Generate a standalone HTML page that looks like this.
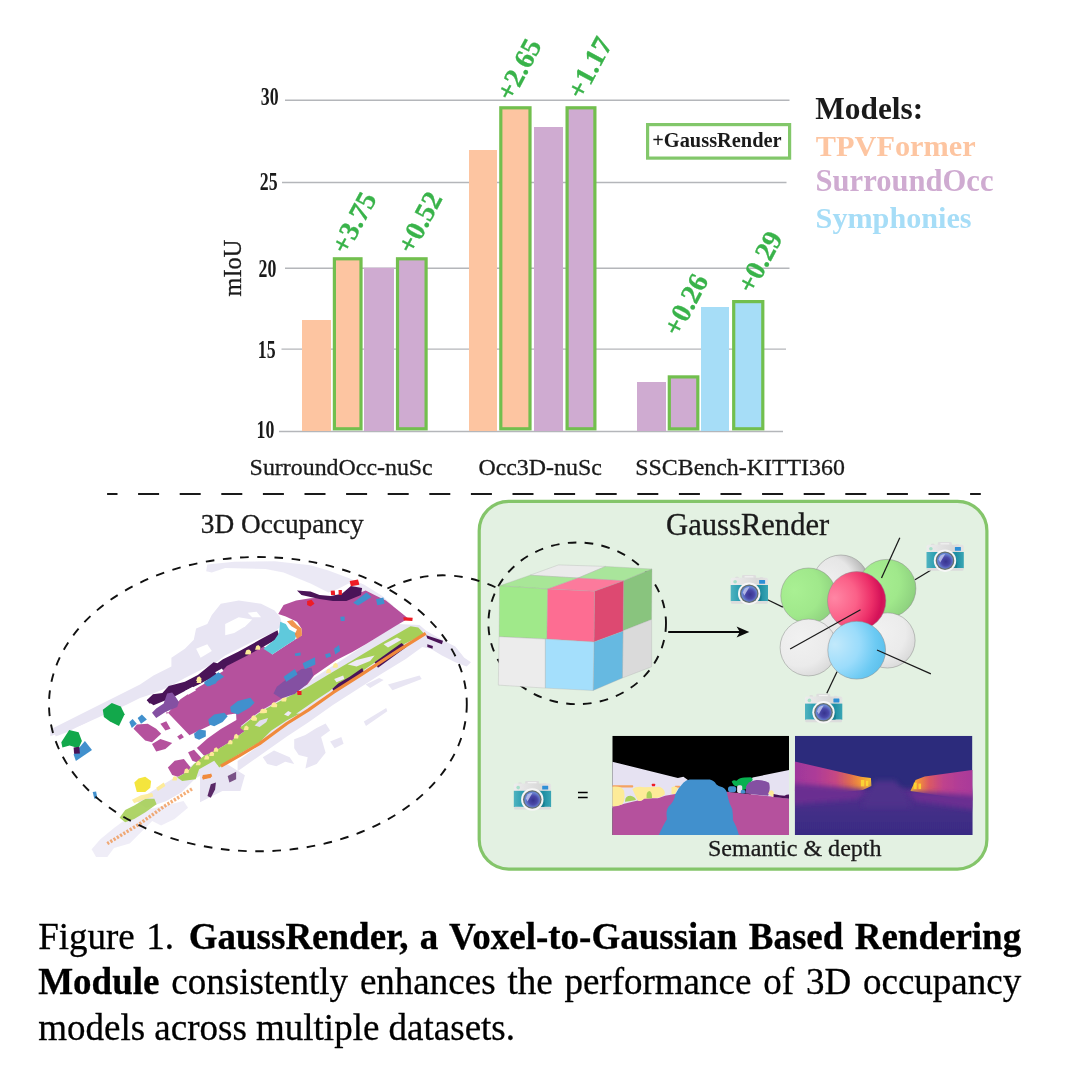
<!DOCTYPE html>
<html lang="en">
<head>
<meta charset="utf-8">
<title>Figure 1 - GaussRender</title>
<style>
html,body{margin:0;padding:0;background:#fff;}
body{width:1070px;height:1084px;position:relative;overflow:hidden;font-family:"Liberation Serif",serif;color:#000;}
svg{position:absolute;left:0;top:0;display:block;}
svg text{font-family:"Liberation Serif",serif;}
.cap{position:absolute;left:38.2px;width:983px;font-size:37px;line-height:45px;white-space:nowrap;text-align:justify;text-align-last:justify;color:#000;}
.cap.last{text-align:left;text-align-last:left;}
.cap b{font-weight:bold;}
.cap{-webkit-text-stroke:0.3px #000;}
svg text.tk, svg g.tk text{stroke:#1a1a1a;stroke-width:0.3px;}
</style>
</head>
<body>
<svg width="1070" height="1084" viewBox="0 0 1070 1084">
<defs>
<radialGradient id="gW" cx="0.35" cy="0.35" r="0.8"><stop offset="0" stop-color="#f1f1f1"/><stop offset="0.6" stop-color="#ebebeb"/><stop offset="0.85" stop-color="#dcdcdc"/><stop offset="1" stop-color="#c4c4c4"/></radialGradient>
<radialGradient id="gWb" cx="0.25" cy="0.5" r="0.85"><stop offset="0" stop-color="#f0f0f0"/><stop offset="0.55" stop-color="#e6e6e6"/><stop offset="0.8" stop-color="#bdbdbd"/><stop offset="1" stop-color="#7d7d7d"/></radialGradient>
<radialGradient id="gG" cx="0.25" cy="0.4" r="0.85"><stop offset="0" stop-color="#a9f093"/><stop offset="0.55" stop-color="#a0e88b"/><stop offset="0.85" stop-color="#90d480"/><stop offset="1" stop-color="#7fc073"/></radialGradient>
<radialGradient id="gP" cx="0.12" cy="0.45" r="0.95"><stop offset="0" stop-color="#ff86a4"/><stop offset="0.4" stop-color="#fb6088"/><stop offset="0.68" stop-color="#ec2e68"/><stop offset="0.85" stop-color="#d31158"/><stop offset="1" stop-color="#d92663"/></radialGradient>
<radialGradient id="gB" cx="0.12" cy="0.4" r="0.95"><stop offset="0" stop-color="#c2e9fb"/><stop offset="0.45" stop-color="#9bdcfb"/><stop offset="0.75" stop-color="#6ccaf3"/><stop offset="1" stop-color="#57bdea"/></radialGradient>
<linearGradient id="cTop" x1="0" y1="0" x2="1" y2="0"><stop offset="0" stop-color="#ededed"/><stop offset="0.7" stop-color="#d9d9d9"/><stop offset="1" stop-color="#e4e4e4"/></linearGradient>
<linearGradient id="cBody" x1="0" y1="0" x2="1" y2="0"><stop offset="0" stop-color="#4fb3c0"/><stop offset="0.25" stop-color="#2a9db0"/><stop offset="0.8" stop-color="#1f8fa3"/><stop offset="1" stop-color="#3aa6b5"/></linearGradient>
<radialGradient id="cLens" cx="0.55" cy="0.55" r="0.6"><stop offset="0" stop-color="#37348f"/><stop offset="0.45" stop-color="#4a48a8"/><stop offset="0.8" stop-color="#6a86d4"/><stop offset="1" stop-color="#4f7fcf"/></radialGradient>
<g id="cam">
<rect x="11.3" y="0" width="14" height="5" rx="1.2" fill="#dedede"/>
<rect x="13.8" y="1.2" width="9" height="1.3" rx="0.5" fill="#f3f3f3"/>
<rect x="4.5" y="1.6" width="3.5" height="2" rx="0.8" fill="#dcdcdc"/>
<rect x="29" y="2" width="3.5" height="1.5" rx="0.6" fill="#e0e0e0"/>
<rect x="0" y="2.7" width="37.3" height="8" rx="1.8" fill="url(#cTop)"/>
<rect x="0" y="9.9" width="37.3" height="16.2" fill="url(#cBody)"/>
<rect x="0.3" y="25.9" width="36.7" height="2.7" rx="1" fill="#dcdcdc"/>
<path d="M27,13 q5,5 3.5,13 h-5 z" fill="#187a8c" opacity="0.8"/>
<rect x="28.4" y="4.8" width="6" height="3.9" rx="0.4" fill="#2d8fd6"/>
<circle cx="4.4" cy="6.7" r="1.8" fill="#a6e0cb"/>
<circle cx="18.5" cy="18.6" r="11.2" fill="#f6f6f6"/>
<circle cx="18.5" cy="18.6" r="9.3" fill="#66706f"/>
<circle cx="18.5" cy="18.6" r="8" fill="url(#cLens)"/>
<path d="M12.2,17.5 a6.8,6.8 0 0 1 6.5,-5.6 l-5,8.6 z" fill="#c6caf0" opacity="0.8"/>
</g>
<linearGradient id="dGround" x1="0" y1="0" x2="0" y2="1"><stop offset="0" stop-color="#582e8c"/><stop offset="0.35" stop-color="#452d88"/><stop offset="1" stop-color="#342c81"/></linearGradient>
<linearGradient id="dL" x1="0" y1="0" x2="1" y2="0"><stop offset="0" stop-color="#9c389c"/><stop offset="0.3" stop-color="#ad3b98"/><stop offset="0.55" stop-color="#c64784"/><stop offset="0.72" stop-color="#de6a52"/><stop offset="0.86" stop-color="#f29638"/><stop offset="1" stop-color="#fbc530"/></linearGradient>
<linearGradient id="dR" x1="0" y1="0" x2="1" y2="0"><stop offset="0" stop-color="#fbc52c"/><stop offset="0.12" stop-color="#f4923a"/><stop offset="0.28" stop-color="#dc5a62"/><stop offset="0.5" stop-color="#c0438c"/><stop offset="0.75" stop-color="#b03c97"/><stop offset="1" stop-color="#a83a9a"/></linearGradient>
<linearGradient id="dFade" x1="0" y1="0" x2="0" y2="1"><stop offset="0" stop-color="#fff"/><stop offset="0.55" stop-color="#fff"/><stop offset="1" stop-color="#000"/></linearGradient>
<filter id="bl3" x="-10%" y="-30%" width="120%" height="160%"><feGaussianBlur stdDeviation="14"/></filter>
<filter id="bl4" x="-20%" y="-50%" width="140%" height="200%"><feGaussianBlur stdDeviation="16"/></filter>
<filter id="bl2" x="-10%" y="-30%" width="120%" height="160%"><feGaussianBlur stdDeviation="4"/></filter>
<clipPath id="clipD"><rect x="38" y="43" width="974" height="544"/></clipPath>
<clipPath id="clipS"><rect x="40" y="43" width="970" height="544"/></clipPath>
</defs>
<!-- ===== CHART ===== -->
<g id="chart">
<g stroke="#b4b6ba" stroke-width="1.45" fill="none">
<line x1="285" y1="100.3" x2="789.5" y2="100.3"/>
<line x1="282" y1="182.5" x2="786.5" y2="182.5"/>
<line x1="285" y1="268.2" x2="789.5" y2="268.2"/>
<line x1="281.5" y1="349.1" x2="786" y2="349.1"/>
<line x1="279" y1="431.4" x2="783" y2="431.4"/>
</g>
<!-- group 1 -->
<rect x="302" y="320" width="29" height="111" fill="#fdc5a1"/>
<rect x="334.4" y="258.8" width="26.6" height="170" fill="#fdc5a1" stroke="#72bf4e" stroke-width="3.2"/>
<rect x="364" y="267.8" width="30" height="163.2" fill="#cfabd1"/>
<rect x="397.5" y="258.8" width="28.6" height="170" fill="#cfabd1" stroke="#72bf4e" stroke-width="3.2"/>
<!-- group 2 -->
<rect x="469" y="150" width="28" height="281" fill="#fdc5a1"/>
<rect x="500.8" y="107.8" width="29.2" height="321" fill="#fdc5a1" stroke="#72bf4e" stroke-width="3.2"/>
<rect x="534" y="127" width="29" height="304" fill="#cfabd1"/>
<rect x="567.1" y="107.8" width="27.8" height="321" fill="#cfabd1" stroke="#72bf4e" stroke-width="3.2"/>
<!-- group 3 -->
<rect x="637" y="382" width="29" height="49" fill="#cfabd1"/>
<rect x="669.3" y="376.9" width="28.5" height="52" fill="#cfabd1" stroke="#72bf4e" stroke-width="3.2"/>
<rect x="701" y="307" width="28" height="124" fill="#a6ddf7"/>
<rect x="733.7" y="301.6" width="29.1" height="127.2" fill="#a6ddf7" stroke="#72bf4e" stroke-width="3.2"/>
<!-- y tick labels -->
<g font-weight="bold" font-size="24.5" fill="#1a1a1a" text-anchor="end">
<text x="278.6" y="105.2" textLength="17.8" lengthAdjust="spacingAndGlyphs">30</text>
<text x="277.6" y="190.4" textLength="17.8" lengthAdjust="spacingAndGlyphs">25</text>
<text x="276.4" y="277.2" textLength="17.8" lengthAdjust="spacingAndGlyphs">20</text>
<text x="275.6" y="357.6" textLength="17.8" lengthAdjust="spacingAndGlyphs">15</text>
<text x="274.4" y="437.8" textLength="17.8" lengthAdjust="spacingAndGlyphs">10</text>
</g>
<text class="tk" transform="translate(241.2,296.5) rotate(-90)" font-size="24.3" fill="#1a1a1a">mIoU</text>
<!-- delta labels -->
<g font-weight="bold" font-size="28" fill="#39b34a" stroke="#39b34a" stroke-width="0.3">
<text transform="translate(346.8,255.7) rotate(-62)">+3.75</text>
<text transform="translate(412.7,255.5) rotate(-62)">+0.52</text>
<text transform="translate(511.8,102.6) rotate(-62)">+2.65</text>
<text transform="translate(582.5,100.7) rotate(-62)">+1.17</text>
<text transform="translate(678.7,337.7) rotate(-62)">+0.26</text>
<text transform="translate(752.8,295) rotate(-62)">+0.29</text>
</g>
<!-- x labels -->
<g class="tk" font-size="23.9" fill="#1a1a1a">
<text x="249.6" y="474.8">SurroundOcc-nuSc</text>
<text x="478.4" y="474.8">Occ3D-nuSc</text>
<text x="635.2" y="474.8">SSCBench-KITTI360</text>
</g>
<!-- legend box -->
<rect x="647.6" y="124.6" width="142" height="33.5" fill="#fff" stroke="#82c76a" stroke-width="3.2"/>
<text x="652.2" y="147.3" font-weight="bold" font-size="20.4" fill="#1a1a1a">+GaussRender</text>
<g font-weight="bold">
<text x="815.3" y="119.2" font-size="31.3" fill="#1a1a1a">Models:</text>
<text x="815.8" y="155.7" font-size="30.3" fill="#fdc5a1">TPVFormer</text>
<text x="815.6" y="191.2" font-size="30.6" fill="#cfabd1">SurroundOcc</text>
<text x="815.6" y="228" font-size="30.2" fill="#a6ddf7">Symphonies</text>
</g>
</g>
<!-- dashed separator -->
<line x1="107.1" y1="494" x2="980.8" y2="494" stroke="#1a1a1a" stroke-width="2.1" stroke-dasharray="21 20.6" stroke-dashoffset="10.6"/>
<!-- ===== LEFT: 3D occupancy ===== -->
<text class="tk" x="200.8" y="532.8" font-size="27.3" fill="#1a1a1a">3D Occupancy</text>
<g id="occ">
<polygon points="206.2,571.3 207.3,564.6 234.2,561.7 274.6,561.2 310.5,565.3 328.4,570.6 348.6,578.0 364.3,584.8 382.3,596.0 393.5,606.1 386.7,608.3 373.3,598.2 362.1,590.4 348.6,583.6 337.4,589.3 328.4,592.6 310.5,583.6 297.0,578.0 283.6,572.4 265.6,569.1 245.4,568.4 225.2,567.9 211.8,572.4" fill="#e8e5f3" opacity="0.85"/>
<polygon points="211.8,615.1 220.8,603.8 238.7,600.5 261.1,603.8 274.6,610.6 280.2,617.3 282.4,625.1 274.6,631.9 256.6,639.7 238.7,648.7 225.2,655.4 216.3,662.2 202.8,668.9 184.9,677.9 169.2,686.8 153.5,693.6 140.0,698.0 126.5,704.8 106.4,713.8 81.7,725.0 50.3,736.2 50.3,729.5 72.7,718.2 95.1,707.0 117.6,695.8 140.0,684.6 153.5,675.6 171.4,666.6 171.4,657.7 184.9,648.7 193.8,639.7 196.1,628.5 207.3,624.0" fill="#e8e5f3"/>
<polygon points="225.2,624.0 238.7,617.3 252.2,619.5 245.4,626.3 234.2,633.0 225.2,635.2" fill="#fff"/>
<polygon points="247.7,612.8 256.6,611.7 261.1,617.3 252.2,617.3" fill="#fff"/>
<polygon points="196.1,648.7 207.3,644.2 211.8,650.9 200.6,657.7" fill="#fff"/>
<polygon points="426.2,630.8 441.9,639.7 455.3,646.5 464.3,657.7 471.0,662.2 466.6,666.6 455.3,662.2 441.9,655.4 430.7,648.7 419.5,646.5 397.0,659.9 374.6,673.4 352.2,686.8 329.7,700.3 307.3,713.8 284.9,727.2 262.4,740.7 240.0,754.1 217.6,765.3 195.1,778.8 181.7,792.3 166.0,801.2 145.8,808.0 136.8,801.2 150.3,792.3 172.7,778.8 195.1,763.1 217.6,747.4 240.0,731.7 262.4,720.5 284.9,707.0 307.3,693.6 334.2,677.9 363.4,659.9 397.0,639.7" fill="#e8e5f3"/>
<polygon points="380.0,664.1 360.9,676.4 332.9,694.4 308.2,711.8 286.9,725.2 260.0,744.9 237.6,761.1 237.6,771.2 260.0,755.5 286.9,736.4 308.2,722.4 332.9,705.0 360.9,687.1 380.0,674.8 405.8,659.1 422.6,646.7 417.0,640.0 405.8,646.7" fill="#e8e5f3"/>
<polygon points="294.2,739.3 305.4,734.9 316.6,728.1 325.6,723.6 330.1,730.4 321.1,737.1 325.6,752.8 316.6,764.0 305.4,768.5 307.7,757.3 298.7,755.1 294.2,748.3" fill="#e8e5f3"/>
<polygon points="330.1,741.6 341.3,737.1 343.6,743.8 334.6,748.3" fill="#e8e5f3"/>
<polygon points="363.8,721.4 386.2,707.9 387.3,711.3 366.0,725.9" fill="#e8e5f3"/>
<polygon points="262.8,757.3 274.0,750.6 289.7,757.3 294.2,764.0 285.2,761.8 276.3,766.3 267.3,764.0" fill="#e8e5f3"/>
<polygon points="200.0,775.2 213.5,766.3 226.9,764.0 244.9,775.2 240.4,790.9 222.4,790.9 209.0,797.7 200.0,802.2" fill="#e8e5f3"/>
<polygon points="365.6,684.6 379.1,677.9 383.6,680.1 370.1,688.0" fill="#e8e5f3"/>
<polygon points="388.0,684.6 419.5,675.6 421.7,679.0 392.5,690.2" fill="#e8e5f3"/>
<polygon points="53.5,729.9 69.2,723.2 84.9,714.2 102.8,707.5 102.8,714.2 84.9,723.2 66.9,732.2 55.7,736.6" fill="#e8e5f3"/>
<polygon points="397.0,624.0 419.5,625.1 426.2,630.8 397.0,639.7 352.2,662.2 307.3,689.1 262.4,713.8 240.0,729.5 240.0,722.7 262.4,707.0 307.3,682.3 352.2,653.2" fill="#e8e5f3"/>
<polygon points="91.6,849.2 100.6,839.1 114.0,827.9 129.7,816.6 145.4,809.9 165.6,805.4 183.6,800.9 188.0,807.7 174.6,818.9 161.1,825.6 152.2,821.1 138.7,834.6 129.7,843.6 114.0,848.0 107.3,857.0 96.1,857.0" fill="#e8e5f3" opacity="0.7"/>
<polygon points="166.7,714.2 180.4,699.2 198.3,687.3 218.5,675.6 226.4,665.5 245.4,655.9 263.4,646.0 272.3,654.5 283.6,646.9 294.8,639.7 302.0,635.2 301.5,628.5 297.0,621.8 285.8,616.6 278.2,613.9 283.6,605.0 296.1,600.5 310.5,598.2 326.4,597.6 337.4,601.1 348.6,598.2 356.7,593.7 365.7,590.4 374.6,594.9 385.9,600.5 397.1,609.4 408.3,618.4 397.1,625.1 365.7,644.2 352.2,652.1 336.5,659.9 325.3,667.8 314.1,675.6 307.3,684.6 284.9,696.9 262.5,709.7 251.3,717.8 240.9,726.1 244.5,731.3 229.4,742.2 214.2,751.5 204.1,755.7 196.5,747.6 194.0,743.9 190.7,736.4 166.3,711.1" fill="#b5519d"/>
<polygon points="189.3,735.2 209.2,725.8 227.7,714.8 236.1,713.6 236.4,720.0 220.9,729.1 207.5,738.4 195.7,749.0 192.3,744.9" fill="#fff"/>
<polygon points="133.5,728.8 136.8,724.6 147.8,723.7 156.2,728.8 161.2,733.8 152.0,742.2 145.2,740.6" fill="#b5519d"/>
<polygon points="152.0,743.9 160.4,738.9 172.2,743.1 165.4,749.0 156.2,751.5" fill="#b5519d"/>
<polygon points="160.4,723.7 166.3,721.2 170.5,728.8 165.4,730.5" fill="#b5519d"/>
<polygon points="177.2,736.4 181.4,733.8 183.9,737.2 179.7,739.7" fill="#b5519d"/>
<polygon points="188.1,752.3 194.0,749.8 202.4,759.1 197.4,762.4 192.3,760.8" fill="#b5519d"/>
<polygon points="167.9,767.5 174.7,760.8 183.9,759.1 190.7,767.5 187.3,771.7 178.0,776.7 172.2,775.1" fill="#b5519d"/>
<polygon points="146.7,700.3 153.0,694.2 162.4,693.1 168.7,685.9 184.9,681.7 197.9,674.9 213.6,662.2 217.4,663.3 223.0,659.2 238.7,651.4 261.1,639.1 277.5,630.3 279.5,637.5 263.8,646.5 245.9,656.3 226.8,666.0 219.0,674.7 207.3,680.1 198.8,684.6 184.9,690.9 173.6,696.9 153.5,705.2" fill="#4a1458"/>
<polygon points="184.9,690.9 192.7,686.8 196.1,690.2 188.2,694.7" fill="#fff"/>
<polygon points="215.1,672.3 221.9,668.4 223.4,671.1 217.4,674.7" fill="#fff"/>
<polygon points="297.0,590.4 310.5,591.5 319.5,594.9 330.7,596.0 341.9,593.7 350.9,585.9 362.1,588.1 361.0,594.9 346.4,601.1 332.9,601.1 319.5,598.9 301.5,594.9" fill="#4a1458"/>
<polygon points="146.9,700.2 152.0,696.0 160.4,695.1 162.9,699.3 157.0,702.7 149.4,703.6" fill="#4a1458"/>
<polygon points="418.3,627.4 410.5,626.3 397.0,634.1 374.6,646.9 352.2,660.4 329.7,673.8 307.3,687.3 284.9,698.5 262.4,710.8 251.2,718.7 240.0,727.7 244.5,731.3 229.4,742.2 214.2,751.5 204.1,755.7 194.0,764.1 187.3,771.7 177.2,777.6 182.2,780.9 195.7,779.3 199.1,769.2 214.2,760.8 219.3,767.5 231.0,759.1 247.9,749.0 259.6,742.2 271.4,730.5 286.6,720.4 300.0,713.6 296.1,713.8 316.3,699.8 329.7,690.9 333.1,688.0 362.3,671.1 397.0,647.6 419.5,636.4 423.9,633.4" fill="#a6cf58"/>
<polygon points="332.3,688.8 338.5,683.2 349.7,676.8 362.3,668.0 364.1,672.7 353.1,680.6 340.7,688.0 334.0,691.8" fill="#4a1458"/>
<polygon points="374.6,662.2 401.5,643.1 406.4,646.9 378.0,667.8" fill="#4a1458"/>
<polygon points="426.2,635.2 443.0,640.8 441.9,644.2 427.3,638.6" fill="#4a1458"/>
<polygon points="427.3,644.2 432.9,646.0 432.5,648.7 427.3,646.9" fill="#4a1458"/>
<polygon points="347.7,664.4 356.6,659.9 374.6,655.4 370.1,661.0 356.6,666.6" fill="#efeaf6"/>
<polygon points="383.6,644.2 397.0,637.5 401.5,639.7 388.0,647.6" fill="#efeaf6"/>
<polygon points="334.2,679.0 343.2,675.6 344.3,679.0 336.5,682.3" fill="#efeaf6"/>
<polygon points="254.6,725.4 259.6,720.4 268.0,717.9 266.4,722.1 259.6,727.1" fill="#e3dff0"/>
<polygon points="284.0,714.5 288.2,711.1 291.6,712.8 288.2,716.2" fill="#efeaf6"/>
<path d="M425.7,633.4 L398,650.6 L380,662.4 L360.9,674.8 L332.9,692.7 L308.2,710.1 L286.9,723.5 L259.6,743.6 L239.4,755.7 L220.9,766.1 M211.7,775 L202.4,778.2" fill="none" stroke="#f08a3c" stroke-width="3.2" stroke-linejoin="round"/>
<polygon points="202.6,775.1 210.5,774.0 210.9,778.1 203.3,779.0" fill="#f08a3c"/>
<path d="M192,789 L165.6,805.4 L138.7,824.5 L107.3,843.6" fill="none" stroke="#f08a3c" stroke-width="3.4" stroke-dasharray="2.2 1.6" opacity="0.7"/>
<polygon points="119.6,817.8 125.2,809.9 134.2,805.4 145.4,798.7 154.4,798.7 156.6,804.3 145.4,812.2 134.2,818.9 125.2,822.3" fill="#a6cf58" opacity="0.9"/>
<polygon points="132.0,799.8 140.9,795.3 152.2,793.1 153.3,796.5 143.2,799.8 134.2,803.2" fill="#fdeb98" opacity="0.9"/>
<polygon points="92.7,792.0 96.1,791.5 97.4,798.3 94.3,798.7" fill="#4190cd"/>
<polygon points="325.9,673.3 327.0,669.5 329.1,668.4 331.3,670.6 330.8,673.3" fill="#fdeb98"/>
<polygon points="332.6,667.7 333.7,663.9 335.9,662.8 338.0,665.0 337.5,667.7" fill="#fdeb98"/>
<polygon points="294.5,693.0 295.6,689.3 297.7,688.2 299.9,690.3 299.4,693.0" fill="#fdeb98"/>
<polygon points="281.0,700.7 282.1,696.9 284.3,695.8 286.4,698.0 285.9,700.7" fill="#fdeb98"/>
<polygon points="271.0,706.9 272.0,703.2 274.2,702.1 276.3,704.2 275.8,706.9" fill="#fdeb98"/>
<polygon points="259.7,713.2 260.8,709.4 263.0,708.4 265.1,710.5 264.6,713.2" fill="#fdeb98"/>
<polygon points="250.8,719.9 251.8,716.2 254.0,715.1 256.2,717.2 255.6,719.9" fill="#fdeb98"/>
<polygon points="281.5,701.4 282.5,697.8 284.5,696.8 286.6,698.8 286.0,701.4" fill="#fdeb98"/>
<polygon points="272.3,707.3 273.3,703.7 275.3,702.7 277.3,704.7 276.8,707.3" fill="#fdeb98"/>
<polygon points="262.2,713.1 263.2,709.6 265.2,708.6 267.2,710.6 266.7,713.1" fill="#fdeb98"/>
<polygon points="252.1,720.7 253.1,717.2 255.1,716.2 257.1,718.2 256.6,720.7" fill="#fdeb98"/>
<polygon points="243.7,730.0 244.7,726.4 246.7,725.4 248.7,727.4 248.2,730.0" fill="#fdeb98"/>
<polygon points="233.6,738.4 234.6,734.8 236.6,733.8 238.6,735.9 238.1,738.4" fill="#fdeb98"/>
<polygon points="227.7,744.3 228.7,740.7 230.7,739.7 232.7,741.7 232.2,744.3" fill="#fdeb98"/>
<polygon points="213.4,751.8 214.4,748.3 216.4,747.3 218.4,749.3 217.9,751.8" fill="#fdeb98"/>
<polygon points="209.2,756.0 210.2,752.5 212.2,751.5 214.2,753.5 213.7,756.0" fill="#fdeb98"/>
<polygon points="204.1,759.4 205.1,755.9 207.1,754.9 209.2,756.9 208.7,759.4" fill="#fdeb98"/>
<polygon points="195.7,765.3 196.7,761.8 198.7,760.8 200.8,762.8 200.2,765.3" fill="#fdeb98"/>
<polygon points="183.9,772.9 184.9,769.3 187.0,768.3 189.0,770.3 188.5,772.9" fill="#fdeb98"/>
<polygon points="172.2,780.4 173.2,776.9 175.2,775.9 177.2,777.9 176.7,780.4" fill="#fdeb98"/>
<polygon points="245.8,654.2 246.9,650.4 249.1,649.4 251.2,651.5 250.7,654.2" fill="#fdeb98"/>
<polygon points="245.0,654.2 246.1,650.4 248.2,649.4 250.4,651.5 249.8,654.2" fill="#fdeb98"/>
<polygon points="255.1,649.7 256.2,646.0 258.3,644.9 260.5,647.0 259.9,649.7" fill="#fdeb98"/>
<polygon points="196.1,681.1 197.2,677.4 199.3,676.3 201.5,678.4 200.9,681.1" fill="#fdeb98"/>
<polygon points="196.5,682.9 197.6,679.3 199.6,678.3 201.6,680.3 201.1,682.9" fill="#fdeb98"/>
<polygon points="280.2,621.8 285.8,624.0 289.2,629.6 297.0,633.4 294.8,639.7 283.6,646.9 272.3,654.5 263.4,648.7 274.6,639.7 279.1,633.0" fill="#5fc9dc"/>
<polygon points="286.9,621.3 292.5,620.0 297.0,625.1 301.5,628.5 302.0,635.2 297.0,639.3 294.8,634.1 297.0,629.6 291.4,626.3" fill="#f08a3c" opacity="0.9"/>
<polygon points="273.5,693.6 276.8,686.8 288.0,677.9 301.5,668.9 311.6,667.8 313.2,675.6 306.0,685.0 294.8,694.0 281.3,698.5" fill="#8450a2"/>
<polygon points="152.0,712.8 156.2,708.6 163.7,703.6 167.1,693.5 172.2,692.6 175.5,696.8 178.9,701.9 177.2,706.9 165.4,712.0 156.2,717.9" fill="#8450a2"/>
<polygon points="203.9,682.3 218.5,672.3 224.1,676.7 209.5,686.2" fill="#4190cd"/>
<polygon points="283.6,676.7 294.8,668.9 297.5,674.5 286.3,681.7" fill="#4190cd"/>
<polygon points="302.6,663.3 315.0,657.2 315.4,664.4 304.9,669.3" fill="#4190cd"/>
<polygon points="334.0,648.7 339.0,645.1 340.1,650.9 335.2,654.5" fill="#4190cd"/>
<polygon points="353.1,602.7 366.6,592.6 371.5,597.1 358.0,605.4" fill="#4190cd"/>
<polygon points="376.0,599.3 383.4,597.6 384.5,603.8 377.3,605.2" fill="#4190cd"/>
<polygon points="325.1,654.3 330.0,653.0 331.1,656.6 326.2,658.1" fill="#4190cd"/>
<polygon points="294.8,653.6 300.6,652.5 300.6,655.4 295.2,656.1" fill="#4190cd"/>
<polygon points="340.3,616.8 344.6,616.4 344.6,620.9 340.8,620.9" fill="#4190cd"/>
<polygon points="129.3,722.1 132.6,719.0 136.8,723.7 131.8,727.9" fill="#4190cd"/>
<polygon points="137.7,717.9 141.9,714.5 146.9,719.5 141.0,723.7" fill="#4190cd"/>
<polygon points="208.3,719.5 214.2,714.5 224.3,712.8 227.7,716.2 222.6,722.1 214.2,726.3 209.2,724.6" fill="#4190cd"/>
<polygon points="230.2,706.9 237.8,701.0 250.4,697.7 254.6,702.7 249.5,707.8 237.8,714.5 231.0,712.0" fill="#4190cd"/>
<polygon points="194.0,733.8 199.1,729.6 205.8,730.5 205.8,736.4 199.1,739.7 194.9,738.0" fill="#4190cd"/>
<polygon points="204.1,683.4 207.5,680.0 217.6,680.0 215.9,683.4 207.5,686.4" fill="#4190cd"/>
<polygon points="73.6,754.6 84.9,741.1 92.0,750.1 75.9,760.9" fill="#4190cd"/>
<polygon points="307.1,601.1 311.6,599.8 314.5,603.8 310.5,606.5 307.1,605.0" fill="#ee1c25"/>
<polygon points="349.7,581.0 358.0,579.6 359.4,584.8 350.9,586.3" fill="#ee1c25"/>
<polygon points="330.7,590.8 334.7,590.4 335.2,594.9 331.1,594.9" fill="#ee1c25"/>
<polygon points="338.5,589.9 341.9,589.9 341.9,594.9 338.7,594.9" fill="#ee1c25"/>
<polygon points="297.0,690.9 301.5,690.9 301.5,694.9 297.5,694.9" fill="#ee1c25"/>
<polygon points="403.3,617.3 412.7,617.7 412.3,620.9 403.8,620.4" fill="#ee1c25"/>
<polygon points="102.8,709.7 111.8,703.0 120.8,706.4 124.6,714.2 119.0,725.9 110.0,721.4 103.9,716.9" fill="#12a84b"/>
<polygon points="61.3,742.3 69.2,729.9 78.6,732.2 81.9,741.1 78.6,748.3 69.6,745.6 62.4,747.4" fill="#12a84b"/>
<polygon points="134.3,782.6 138.5,778.4 145.2,776.7 151.1,780.9 150.3,787.7 145.2,791.9 136.8,791.9" fill="#f4e53d"/>
<polygon points="156.2,787.7 163.7,782.6 165.4,786.0 157.9,791.0" fill="#fdeb98"/>
<polygon points="207.5,796.1 210.8,784.3 215.9,782.6 215.1,789.4 210.8,797.8" fill="#4a1458" opacity="0.9"/>
<polygon points="227.7,775.9 236.1,771.7 236.1,779.3 229.4,782.6" fill="#4a1458" opacity="0.7"/>
<polygon points="73.6,747.4 79.3,746.7 79.9,753.5 74.1,753.7" fill="#4a1458"/>
</g>
<ellipse cx="257.9" cy="704.15" rx="208.9" ry="147.15" fill="none" stroke="#111" stroke-width="1.9" stroke-dasharray="8.6 8.63"/>
<!-- ===== RIGHT: GaussRender box ===== -->
<rect x="479.2" y="501.3" width="507.7" height="367.8" rx="29.5" ry="29.5" fill="#e3f1e2" stroke="#84c56a" stroke-width="3.2"/>
<text class="tk" x="666.1" y="535" font-size="30.6" fill="#1a1a1a">GaussRender</text>
<ellipse cx="577.2" cy="623.3" rx="88.8" ry="80.85" fill="none" stroke="#111" stroke-width="1.9" stroke-dasharray="8.6 8.35"/>
<path d="M387.4,588.5 Q441.6,562.6 496,587.5" fill="none" stroke="#111" stroke-width="1.9" stroke-dasharray="8.6 8.6"/>
<g id="cube" stroke="#a8a8a8" stroke-width="0.3" stroke-linejoin="round">
<polygon points="530.1,575.2 558.5,564.9 605.6,566.4 578.1,578.0" fill="#ebebeb"/>
<polygon points="578.1,578.0 605.6,566.4 652.0,569.0 623.6,580.8" fill="#a9e59b"/>
<polygon points="499.6,585.8 530.1,575.2 578.1,578.0 547.7,589.0" fill="#a8e697"/>
<polygon points="547.7,589.0 578.1,578.0 623.6,580.8 594.4,591.3" fill="#fc7a9c"/>
<polygon points="623.6,580.8 652.0,569.0 651.6,619.5 623.0,630.7" fill="#89c47e"/>
<polygon points="623.0,630.7 651.6,619.5 651.6,666.8 622.4,678.0" fill="#dadada"/>
<polygon points="594.4,591.3 623.6,580.8 623.0,631.3 594.0,641.9" fill="#dd4971"/>
<polygon points="594.0,641.9 623.0,631.3 622.4,678.0 593.1,690.5" fill="#66b9e1"/>
<polygon points="499.6,585.8 547.7,589.0 546.9,638.9 499.1,636.7" fill="#a0e98a"/>
<polygon points="547.7,589.0 594.4,591.3 594.0,641.9 546.9,638.9" fill="#fd6d92"/>
<polygon points="499.1,636.7 545.4,639.1 545.4,688.1 498.3,685.1" fill="#ececec"/>
<polygon points="545.4,639.1 594.0,641.9 593.1,690.5 545.4,688.1" fill="#a4dffc"/>
</g>
<g id="spheres">
<g stroke="#8a8a8a" stroke-width="0.5">
<circle cx="840.9" cy="583" r="28" fill="url(#gWb)"/>
<circle cx="845" cy="625" r="22" fill="#e9e9e9" stroke="none"/>
<circle cx="808.5" cy="595.7" r="27.7" fill="url(#gG)"/>
<circle cx="886.8" cy="588.5" r="29.1" fill="url(#gG)"/>
<circle cx="887.5" cy="640.4" r="27.6" fill="url(#gW)"/>
<circle cx="808.5" cy="647.5" r="28.4" fill="url(#gW)"/>
<circle cx="856.7" cy="600.8" r="29.2" fill="url(#gP)"/>
<circle cx="856.7" cy="650.2" r="28.9" fill="url(#gB)"/>
</g>
<g stroke="#1a1a1a" stroke-width="1.25">
<line x1="899.8" y1="537.8" x2="881.5" y2="578.1"/>
<line x1="930.7" y1="570.2" x2="915" y2="579.7"/>
<line x1="767.6" y1="599.8" x2="782.8" y2="607.1"/>
<line x1="860.5" y1="609.8" x2="790.1" y2="649"/>
<line x1="877" y1="650" x2="930.9" y2="673.9"/>
<line x1="837" y1="671.8" x2="826.8" y2="693.2"/>
</g>
<line x1="668.2" y1="632" x2="741" y2="632" stroke="#0a0a0a" stroke-width="2"/>
<polygon points="749.3,632 736.6,626.5 739.8,632 736.6,637.5" fill="#0a0a0a"/>
</g>
<g id="cams">
<use href="#cam" x="730.7" y="575.1"/>
<use href="#cam" x="926.5" y="542.1"/>
<use href="#cam" x="805" y="693.7"/>
<use href="#cam" x="513.8" y="780.9"/>
</g>
<text x="582.9" y="801.5" text-anchor="middle" font-size="20" style="font-family:'Liberation Sans',sans-serif" fill="#000">=</text>
<g id="bottomrow">
<g id="semantic" transform="translate(605,728) scale(0.18225)" clip-path="url(#clipS)">
<rect x="40" y="43" width="970" height="544" fill="#000"/>
<polygon points="40,185 400,275 430,268 455,285 400,375 40,440" fill="#e6e2f2"/>
<polygon points="1010,230 810,272 790,300 800,370 1010,400" fill="#e6e2f2"/>
<path d="M40,430 Q80,428 105,415 L180,398 Q200,408 215,385 L290,385 L330,372 L385,362 L420,340 L670,350 L760,360 L900,375 L1010,388 L1010,587 L40,587 Z" fill="#b5519d"/>
<rect x="40" y="314" width="115" height="12" rx="5" fill="#f4a261"/>
<rect x="383" y="317" width="30" height="11" rx="4" fill="#f4a261"/>
<path d="M40,322 Q95,318 105,345 Q112,400 95,418 Q60,432 40,430 Z" fill="#fdeb98"/>
<path d="M150,335 Q170,318 215,325 L300,322 Q332,335 328,365 Q300,388 262,384 L215,388 Q195,405 180,398 Q165,370 150,335 Z" fill="#fdeb98"/>
<path d="M365,325 Q385,315 400,330 L385,362 L365,362 Z" fill="#fdeb98"/>
<path d="M110,400 Q112,372 140,372 Q168,380 170,395 Q140,400 110,405 Z" fill="#a8d05a"/>
<path d="M228,385 Q225,348 243,345 Q260,350 258,385 Z" fill="#a8d05a"/>
<rect x="257" y="306" width="18" height="13" rx="3" fill="#ee1c25"/>
<path d="M295,587 Q320,530 340,500 Q332,455 350,430 Q382,400 385,365 Q400,330 430,300 Q445,285 465,283 L575,282 Q600,288 610,308 Q625,322 645,325 Q668,335 672,370 Q680,410 698,445 Q703,480 702,505 Q725,545 735,587 Z" fill="#4190cd"/>
<path d="M695,295 Q705,282 722,290 Q740,272 765,272 L800,270 Q815,278 808,290 Q790,300 785,318 Q775,340 755,340 Q740,332 735,315 Q715,325 705,312 Z" fill="#08b050"/>
<path d="M775,320 Q785,295 830,286 Q870,284 900,300 Q910,335 895,372 L770,360 Z" fill="#8450a2"/>
<rect x="675" y="320" width="45" height="32" rx="14" fill="#4190cd"/>
<rect x="725" y="314" width="28" height="42" rx="9" fill="#dfe0ee"/>
<rect x="745" y="340" width="25" height="20" rx="8" fill="#4190cd"/>
<path d="M895,360 Q905,335 922,345 Q935,365 920,378 Z" fill="#fdeb98"/>
<path d="M925,362 Q960,372 985,372 Q1000,362 1010,365 L1010,388 L925,378 Z" fill="#4a1458"/>
</g>
<g id="depth" transform="translate(788,728) scale(0.18225)" clip-path="url(#clipD)">
<rect x="38" y="43" width="974" height="544" fill="#2c2b7c"/>
<rect x="-20" y="335" width="1100" height="300" fill="url(#dGround)" filter="url(#bl3)"/>
<g filter="url(#bl2)">
<polygon points="20,180 400,268 455,275 458,318 410,340 300,352 20,345" fill="url(#dL)"/>
<polygon points="1030,228 750,266 700,285 672,345 760,360 1030,400" fill="url(#dR)"/>
</g>
<g filter="url(#bl4)">
<polygon points="20,305 300,325 430,338 380,390 20,420" fill="#6a2e91"/>
<polygon points="1030,372 800,352 660,348 700,400 1030,450" fill="#6a2e91"/>
</g>
<polygon points="440,354 477,289 586,289 641,350 678,430 404,430" fill="#50308b" filter="url(#bl3)"/>
<g fill="#fde035" filter="url(#bl2)" opacity="0.8">
<rect x="400" y="285" width="18" height="35"/><rect x="428" y="290" width="12" height="28"/>
<rect x="690" y="300" width="16" height="35"/><rect x="716" y="305" width="14" height="30"/>
</g>
</g>
</g>
<text class="tk" x="707.9" y="855.6" font-size="24.05" fill="#1a1a1a">Semantic &amp; depth</text>
</g>
</svg>
<div class="cap" style="top:914.2px;">Figure 1.<span style="display:inline-block;width:3.5px"></span> <b>GaussRender, a Voxel-to-Gaussian Based Rendering</b></div>
<div class="cap" style="top:958.8px;"><b>Module</b> consistently enhances the performance of 3D occupancy</div>
<div class="cap last" style="top:1005.1px;">models across multiple datasets.</div>
</body>
</html>
